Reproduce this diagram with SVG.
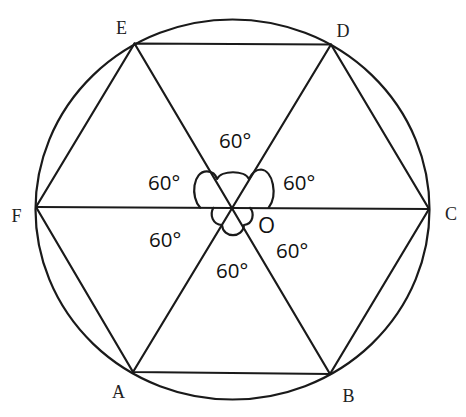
<svg xmlns="http://www.w3.org/2000/svg" width="466" height="417" viewBox="0 0 466 417">
<style>
.ln{stroke:#1a1a1a;stroke-width:2.2;fill:none;stroke-linecap:round;stroke-linejoin:round}
.vl{font-family:"Liberation Serif","Times New Roman",serif;font-size:18px;fill:#222}
.ang{font-family:"Open Sans","Noto Sans",sans-serif;font-size:20.5px;fill:#111}
</style>
<rect width="466" height="417" fill="#fff"/>
<g id="circle"><ellipse class="ln" cx="232.5" cy="209.5" rx="197" ry="190"/></g>
<g id="connectors">
<polygon class="ln" points="134.5,43.5 331,44.5 429,209 330,374 133,372 36,207"/>
<line class="ln" x1="36" y1="207" x2="429" y2="209"/>
<line class="ln" x1="134.5" y1="43.5" x2="330" y2="374"/>
<line class="ln" x1="331" y1="44.5" x2="133" y2="372"/>
<path class="ln" d="M200.3,207.7 C190,197 193,171 207,171.3 C213,171.5 216,175.5 217,179 C221,170 245,170 249,179 C252,172.5 256,169.5 261,169.5 C273,170.5 278,195 268.7,207.7"/>
<path class="ln" d="M213.3,207.8 C209.5,215 212.5,224.5 222,225 C223,238.5 243,238.5 244,225 C253.5,224 254.5,213 250,207.8"/>
</g>
<g id="E"><text class="vl" x="116" y="33.5">E</text></g>
<g id="D"><text class="vl" x="336.5" y="37">D</text></g>
<g id="C"><text class="vl" x="445" y="220">C</text></g>
<g id="B"><text class="vl" x="342.5" y="401.5">B</text></g>
<g id="A"><text class="vl" x="112" y="398">A</text></g>
<g id="F"><text class="vl" x="11.5" y="221.5">F</text></g>
<g id="O"><text class="ang" x="258" y="233" style="font-size:22px">O</text></g>
<g id="angles">
<text class="ang" x="219" y="148">60°</text>
<text class="ang" x="283" y="190">60°</text>
<text class="ang" x="148" y="190">60°</text>
<text class="ang" x="149" y="247">60°</text>
<text class="ang" x="216" y="278">60°</text>
<text class="ang" x="276" y="258">60°</text>
</g>
</svg>
